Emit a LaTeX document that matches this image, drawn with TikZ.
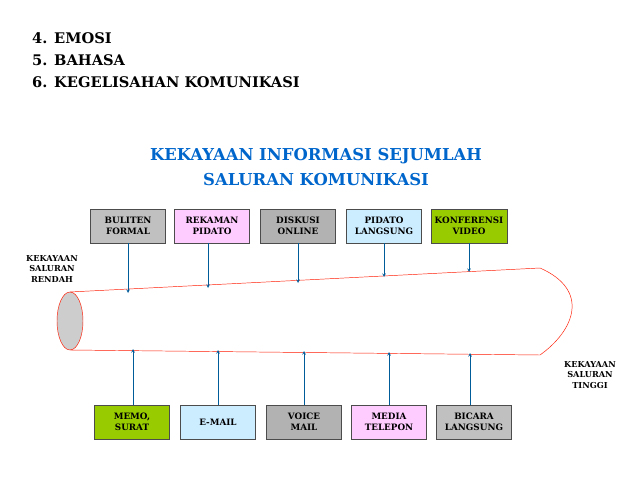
\documentclass[tikz,border=0pt]{standalone}
\usepackage{fontspec}
\setmainfont{DejaVu Serif}
\begin{document}
\begin{tikzpicture}[x=0.03cm,y=-0.03cm,
  box/.style={draw=black!70,minimum width=2.25cm,minimum height=1.02cm,align=center,font=\bfseries\fontsize{7.5}{9}\selectfont},
  arr/.style={-stealth,draw=blue!40!cyan!60!black,thin},
  cone/.style={draw=red!80!orange,thin},
  lbl/.style={align=center,font=\bfseries\fontsize{7}{9}\selectfont}]
\definecolor{gA}{HTML}{C0C0C0}\definecolor{gB}{HTML}{B2B2B2}
\definecolor{pk}{HTML}{FFCCFF}\definecolor{lb}{HTML}{CCECFF}\definecolor{gr}{HTML}{99CC00}
\definecolor{tb}{HTML}{0066CC}
\useasboundingbox (0,0) rectangle (638,478);
\node[anchor=west,font=\bfseries\fontsize{12.5}{14}\selectfont] (l4) at (28,38) {4. EMOSI};
\node[anchor=west,font=\bfseries\fontsize{12.5}{14}\selectfont] (l5) at (28,60) {5. BAHASA};
\node[anchor=west,font=\bfseries\fontsize{12.5}{14}\selectfont] (l6) at (28,82) {6. KEGELISAHAN KOMUNIKASI};
\node[text=tb,align=center,font=\bfseries\fontsize{14}{22}\selectfont] (title) at (316,167) {KEKAYAAN INFORMASI SEJUMLAH\\SALURAN KOMUNIKASI};
% top boxes
\node[box,fill=gA] (t1) at (128,226) {BULITEN\\FORMAL};
\node[box,fill=pk] (t2) at (212,226) {REKAMAN\\PIDATO};
\node[box,fill=gB] (t3) at (298,226) {DISKUSI\\ONLINE};
\node[box,fill=lb] (t4) at (384,226) {PIDATO\\LANGSUNG};
\node[box,fill=gr] (t5) at (469,226) {KONFERENSI\\VIDEO};
% bottom boxes
\node[box,fill=gr] (b1) at (132,422) {MEMO,\\SURAT};
\node[box,fill=lb] (b2) at (218,422) {E-MAIL};
\node[box,fill=gB] (b3) at (304,422) {VOICE\\MAIL};
\node[box,fill=pk] (b4) at (389,422) {MEDIA\\TELEPON};
\node[box,fill=gA] (b5) at (474,422) {BICARA\\LANGSUNG};
% cone
\coordinate (ut) at (70,292); \coordinate (ub) at (70,350);
\coordinate (rt) at (540,268); \coordinate (rb) at (540,355);
\draw[cone,fill=gA!80] (70,321) ellipse [x radius=13, y radius=29];
\draw[cone] (ut) -- (rt) .. controls (590,290) and (575,330) .. (rb) -- (ub);
% arrow targets
\coordinate (a1) at (128,293); \coordinate (a2) at (208,288); \coordinate (a3) at (298,283);
\coordinate (a4) at (384,277); \coordinate (a5) at (469,272);
\coordinate (c1) at (133,349); \coordinate (c2) at (218,350); \coordinate (c3) at (304,351);
\coordinate (c4) at (389,352); \coordinate (c5) at (470,353);
\draw[arr] (t1.south) -- (a1); \draw[arr] (t2.south -| a2) -- (a2); \draw[arr] (t3.south) -- (a3);
\draw[arr] (t4.south) -- (a4); \draw[arr] (t5.south) -- (a5);
\draw[arr] (b1.north -| c1) -- (c1); \draw[arr] (b2.north) -- (c2); \draw[arr] (b3.north) -- (c3);
\draw[arr] (b4.north) -- (c4); \draw[arr] (b5.north -| c5) -- (c5);
\node[lbl] (low) at (52,269) {KEKAYAAN\\SALURAN\\RENDAH};
\node[lbl] (high) at (590,375) {KEKAYAAN\\SALURAN\\TINGGI};
\end{tikzpicture}
\end{document}
